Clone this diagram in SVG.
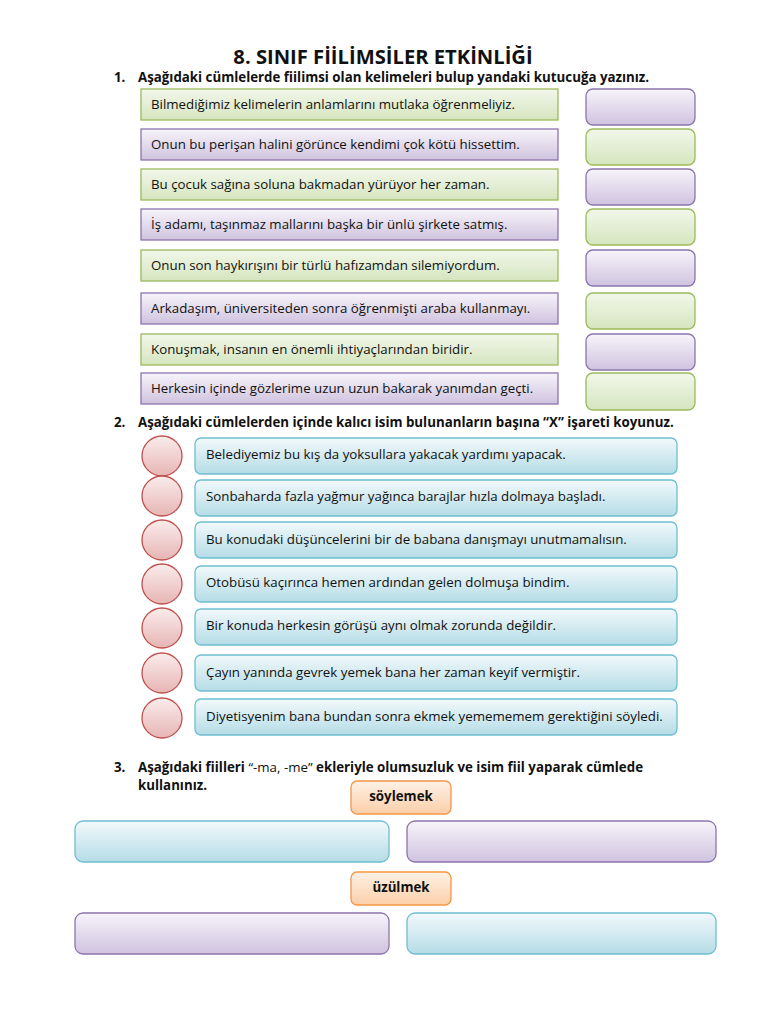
<svg xmlns="http://www.w3.org/2000/svg" width="768" height="1024" viewBox="0 0 768 1024">
<defs>
<linearGradient id="gG" x1="0" y1="0" x2="0" y2="1"><stop offset="0" stop-color="#f2f7ea"/><stop offset="1" stop-color="#d5e5bf"/></linearGradient>
<linearGradient id="gP" x1="0" y1="0" x2="0" y2="1"><stop offset="0" stop-color="#f7f4fa"/><stop offset="1" stop-color="#cfc3df"/></linearGradient>
<linearGradient id="gB" x1="0" y1="0" x2="0" y2="1"><stop offset="0" stop-color="#f2f9fb"/><stop offset="1" stop-color="#b5dce6"/></linearGradient>
<linearGradient id="gR" x1="0" y1="0" x2="0" y2="1"><stop offset="0" stop-color="#fbecec"/><stop offset="1" stop-color="#e6b5b4"/></linearGradient>
<linearGradient id="gO" x1="0" y1="0" x2="0" y2="1"><stop offset="0" stop-color="#fef1e6"/><stop offset="1" stop-color="#fbcfa9"/></linearGradient>
</defs>
<style>
text{font-family:"Open Sans","Liberation Sans",sans-serif;fill:#111}
.t{font-size:13.3px}
.h{font-size:13.3px;font-weight:bold}
.g{fill:url(#gG);stroke:#9bbb59;stroke-width:1.3}
.p{fill:url(#gP);stroke:#8c74ad;stroke-width:1.3}
.b{fill:url(#gB);stroke:#6fbdd1;stroke-width:1.3}
.r{fill:url(#gR);stroke:#c0504d;stroke-width:1.3}
.o{fill:url(#gO);stroke:#f79646;stroke-width:1.3}
</style>
<rect width="768" height="1024" fill="#fff"/>
<text x="383" y="64" text-anchor="middle" style="font-size:20.2px;font-weight:bold">8. SINIF FİİLİMSİLER ETKİNLİĞİ</text>
<text x="114" y="82" class="h">1.</text>
<text x="138" y="82" class="h">Aşağıdaki cümlelerde fiilimsi olan kelimeleri bulup yandaki kutucuğa yazınız.</text>
<g id="s1">
<g id="r1"><rect x="141" y="89" width="417" height="31" class="g"/><text x="151" y="109" class="t">Bilmediğimiz kelimelerin anlamlarını mutlaka öğrenmeliyiz.</text><rect x="586" y="89" width="109" height="36" rx="7" class="p"/></g>
<g id="r2"><rect x="141" y="129" width="417" height="31" class="p"/><text x="151" y="149" class="t">Onun bu perişan halini görünce kendimi çok kötü hissettim.</text><rect x="586" y="129" width="109" height="36" rx="7" class="g"/></g>
<g id="r3"><rect x="141" y="169" width="417" height="31" class="g"/><text x="151" y="189" class="t">Bu çocuk sağına soluna bakmadan yürüyor her zaman.</text><rect x="586" y="169" width="109" height="36" rx="7" class="p"/></g>
<g id="r4"><rect x="141" y="209" width="417" height="31" class="p"/><text x="151" y="229" class="t">İş adamı, taşınmaz mallarını başka bir ünlü şirkete satmış.</text><rect x="586" y="209" width="109" height="36" rx="7" class="g"/></g>
<g id="r5"><rect x="141" y="250" width="417" height="31" class="g"/><text x="151" y="270" class="t">Onun son haykırışını bir türlü hafızamdan silemiyordum.</text><rect x="586" y="250" width="109" height="36" rx="7" class="p"/></g>
<g id="r6"><rect x="141" y="293" width="417" height="31" class="p"/><text x="151" y="313" class="t">Arkadaşım, üniversiteden sonra öğrenmişti araba kullanmayı.</text><rect x="586" y="293" width="109" height="36" rx="7" class="g"/></g>
<g id="r7"><rect x="141" y="334" width="417" height="31" class="g"/><text x="151" y="354" class="t">Konuşmak, insanın en önemli ihtiyaçlarından biridir.</text><rect x="586" y="334" width="109" height="36" rx="7" class="p"/></g>
<g id="r8"><rect x="141" y="373" width="417" height="31" class="p"/><text x="151" y="393" class="t">Herkesin içinde gözlerime uzun uzun bakarak yanımdan geçti.</text><rect x="586" y="373" width="109" height="37" rx="7" class="g"/></g>
</g>
<text x="114" y="427" class="h">2.</text>
<text x="138" y="427" class="h">Aşağıdaki cümlelerden içinde kalıcı isim bulunanların başına “X” işareti koyunuz.</text>
<g id="s2">
<g id="q1"><circle cx="162" cy="456" r="20" class="r"/><rect x="195" y="438" width="482" height="36" rx="6" class="b"/><text x="206" y="459" class="t">Belediyemiz bu kış da yoksullara yakacak yardımı yapacak.</text></g>
<g id="q2"><circle cx="162" cy="496" r="20" class="r"/><rect x="195" y="480" width="482" height="36" rx="6" class="b"/><text x="206" y="501" class="t">Sonbaharda fazla yağmur yağınca barajlar hızla dolmaya başladı.</text></g>
<g id="q3"><circle cx="162" cy="540" r="20" class="r"/><rect x="195" y="522" width="482" height="36" rx="6" class="b"/><text x="206" y="544" class="t">Bu konudaki düşüncelerini bir de babana danışmayı unutmamalısın.</text></g>
<g id="q4"><circle cx="162" cy="584" r="20" class="r"/><rect x="195" y="566" width="482" height="36" rx="6" class="b"/><text x="206" y="587" class="t">Otobüsü kaçırınca hemen ardından gelen dolmuşa bindim.</text></g>
<g id="q5"><circle cx="162" cy="628" r="20" class="r"/><rect x="195" y="609" width="482" height="36" rx="6" class="b"/><text x="206" y="630" class="t">Bir konuda herkesin görüşü aynı olmak zorunda değildir.</text></g>
<g id="q6"><circle cx="162" cy="673" r="20" class="r"/><rect x="195" y="655" width="482" height="36" rx="6" class="b"/><text x="206" y="677" class="t">Çayın yanında gevrek yemek bana her zaman keyif vermiştir.</text></g>
<g id="q7"><circle cx="162" cy="718" r="20" class="r"/><rect x="195" y="699" width="482" height="36" rx="6" class="b"/><text x="206" y="721" class="t">Diyetisyenim bana bundan sonra ekmek yemememem gerektiğini söyledi.</text></g>
</g>
<text x="114" y="772" class="h">3.</text>
<text x="138" y="772" class="h">Aşağıdaki fiilleri <tspan style="font-weight:normal">“-ma, -me”</tspan> ekleriyle olumsuzluk ve isim fiil yaparak cümlede</text>
<text x="138" y="790" class="h">kullanınız.</text>
<g id="s3">
<g id="w1"><rect x="351" y="781" width="100" height="33" rx="6" class="o"/><text x="401" y="801" text-anchor="middle" class="h">söylemek</text></g>
<rect x="75" y="821" width="314" height="41" rx="8" class="b"/>
<rect x="407" y="821" width="309" height="41" rx="8" class="p"/>
<g id="w2"><rect x="351" y="872" width="100" height="33" rx="6" class="o"/><text x="401" y="892" text-anchor="middle" class="h">üzülmek</text></g>
<rect x="75" y="913" width="314" height="41" rx="8" class="p"/>
<rect x="407" y="913" width="309" height="41" rx="8" class="b"/>
</g>
</svg>
